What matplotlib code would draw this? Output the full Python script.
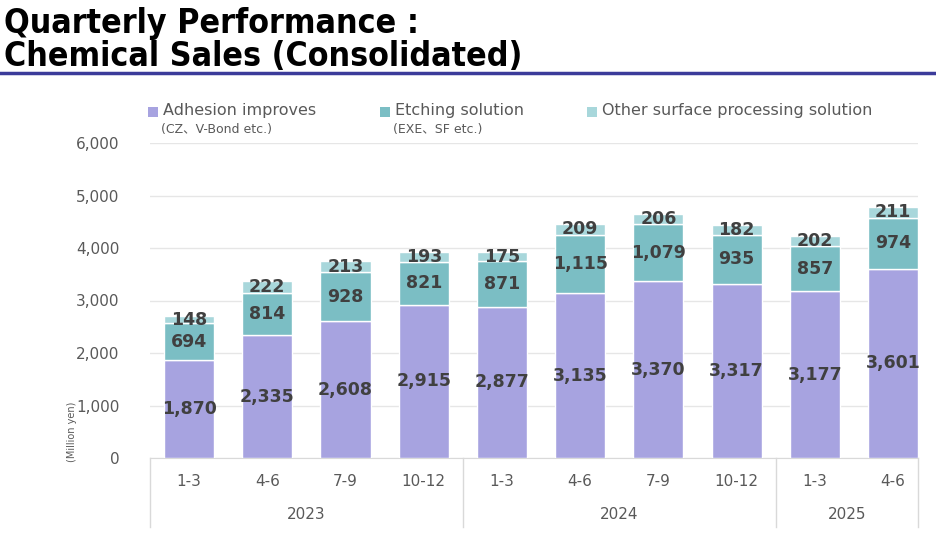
import matplotlib.pyplot as plt
from matplotlib.patches import Rectangle
from matplotlib.lines import Line2D

quarters = ['1-3', '4-6', '7-9', '10-12', '1-3', '4-6', '7-9', '10-12', '1-3', '4-6']
years = ['2023', '2024', '2025']
year_counts = [4, 4, 2]
adhesion = [1870, 2335, 2608, 2915, 2877, 3135, 3370, 3317, 3177, 3601]
etching = [694, 814, 928, 821, 871, 1115, 1079, 935, 857, 974]
other = [148, 222, 213, 193, 175, 209, 206, 182, 202, 211]

series_names = ['Adhesion improves', 'Etching solution', 'Other surface processing solution']
series_notes = ['(CZ\u3001V-Bond etc.)', '(EXE\u3001SF etc.)', '']
colors = ['#a7a3e0', '#7bbec4', '#a8d7db']

plt.rcParams['font.family'] = ['DejaVu Sans', 'Noto Sans CJK JP']

W, H = 936, 535
fig = plt.figure(figsize=(W / 100, H / 100), dpi=100)

def fx(px):
    return px / W

def fy(py):
    return 1 - py / H

ax = fig.add_axes([fx(150), fy(458), fx(918) - fx(150), fy(143) - fy(458)])

x = list(range(len(quarters)))
bw = 0.64
xmax = 9.32
text_col = '#404040'
tick_col = '#595959'

bottoms = [0] * len(x)
for vals, col in zip([adhesion, etching, other], colors):
    ax.bar(x, vals, bw, bottom=bottoms, color=col, edgecolor='white', linewidth=1, zorder=3)
    for xi, b, v in zip(x, bottoms, vals):
        ax.text(xi, b + v / 2, f'{v:,}', ha='center', va='center', fontsize=12.5,
                fontweight='bold', color=text_col, zorder=4)
    bottoms = [b + v for b, v in zip(bottoms, vals)]

ax.set_ylim(0, 6000)
ax.set_xlim(-0.5, xmax)
ax.set_yticks(range(0, 6001, 1000))
ax.set_yticklabels([f'{v:,}' for v in range(0, 6001, 1000)])
ax.tick_params(axis='y', length=0, labelsize=11, labelcolor=tick_col, pad=22)
ax.set_xticks([])
ax.grid(axis='y', color='#e6e6e6', linewidth=1, zorder=0)
for s in ['top', 'right', 'left']:
    ax.spines[s].set_visible(False)
ax.spines['bottom'].set_color('#d9d9d9')

# quarter labels and year groups
xt = ax.get_xaxis_transform()
for xi, q in zip(x, quarters):
    ax.text(xi, -0.075, q, transform=xt, ha='center', va='center', fontsize=11, color=tick_col)
start = -0.5
for yr, n in zip(years, year_counts):
    end = min(start + n, xmax)
    ax.text((start + end) / 2, -0.18, yr, transform=xt, ha='center', va='center',
            fontsize=11, color=tick_col)
    ax.add_line(Line2D([start, start], [0, -0.22], transform=xt, color='#d9d9d9',
                       linewidth=1, clip_on=False))
    start = start + n
ax.add_line(Line2D([xmax, xmax], [0, -0.22], transform=xt, color='#d9d9d9',
                   linewidth=1, clip_on=False))

fig.text(fx(72), fy(432), '(Million yen)', rotation=90, ha='center', va='center',
         fontsize=7, color=tick_col)

# legend
leg_x = [148, 380, 587]
for lx, name, note, col in zip(leg_x, series_names, series_notes, colors):
    fig.patches.append(Rectangle((fx(lx), fy(117)), fx(10), 10 / H, transform=fig.transFigure,
                                 facecolor=col, edgecolor='none'))
    fig.text(fx(lx + 15), fy(111), name, ha='left', va='center', fontsize=11.5, color=tick_col)
    if note:
        fig.text(fx(lx + 13), fy(130), note, ha='left', va='center', fontsize=9, color=tick_col)

# title
for ty, line in zip([23, 56], ['Quarterly Performance :', 'Chemical Sales (Consolidated)']):
    fig.text(fx(4), fy(ty), line, ha='left', va='center', fontsize=24.3,
             fontweight='bold', fontstretch='condensed', color='black')
fig.add_artist(Line2D([0, 1], [fy(73), fy(73)], transform=fig.transFigure, color='#3b3b9a',
                      linewidth=2.5))

fig.savefig('out.png', dpi=100)
